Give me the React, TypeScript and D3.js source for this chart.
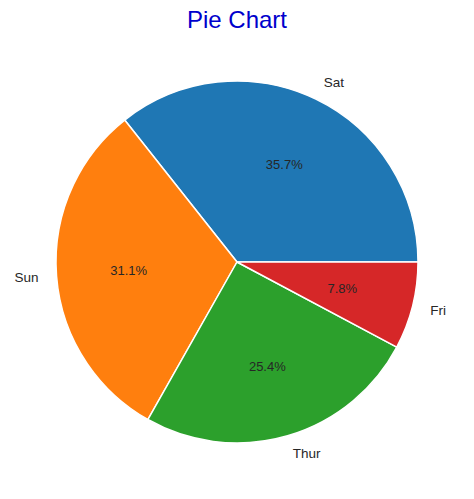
import React from 'react';
import * as d3 from 'd3';

const days = ['Sat', 'Sun', 'Thur', 'Fri'];
const counts = [87, 76, 62, 19];
const colors = ['#1f77b4', '#ff7f0e', '#2ca02c', '#d62728'];

const width = 474;
const height = 499;
const cx = 237;
const cy = 262;
const radius = 181;

const App: React.FC = () => {
  const total = d3.sum(counts);
  // matplotlib style: start at 3 o'clock, counterclockwise
  const pie = d3.pie<number>().sort(null)
    .startAngle(Math.PI / 2)
    .endAngle(Math.PI / 2 - 2 * Math.PI);
  const arcs = pie(counts);
  const arc = d3.arc<d3.PieArcDatum<number>>().innerRadius(0).outerRadius(radius);

  const pos = (a: d3.PieArcDatum<number>, r: number) => {
    const mid = (a.startAngle + a.endAngle) / 2;
    return [r * Math.sin(mid), -r * Math.cos(mid)];
  };

  return (
    <svg width={width} height={height} style={{ position: 'absolute', left: 0, top: 0, background: '#fff' }}
      fontFamily="'Liberation Sans', Arial, sans-serif">
      <text x={cx} y={19} textAnchor="middle" dominantBaseline="central" fontSize={24} fill="#0000cc">Pie Chart</text>
      <g transform={`translate(${cx},${cy})`}>
        {arcs.map((a, i) => (
          <path key={days[i]} d={arc(a) || ''} fill={colors[i]} stroke="#fff" strokeWidth={1.5} strokeLinejoin="round" />
        ))}
        {arcs.map((a, i) => {
          const [x, y] = pos(a, radius * 0.6);
          return (
            <text key={'p' + i} x={x} y={y} textAnchor="middle" dominantBaseline="central" fontSize={13} fill="#262626">
              {((counts[i] / total) * 100).toFixed(1)}%
            </text>
          );
        })}
        {arcs.map((a, i) => {
          const [x, y] = pos(a, radius * 1.1);
          return (
            <text key={'l' + i} x={x} y={y} textAnchor={x > 0 ? 'start' : 'end'} dominantBaseline="central" fontSize={13.5} fill="#262626">
              {days[i]}
            </text>
          );
        })}
      </g>
    </svg>
  );
};

export default App;
